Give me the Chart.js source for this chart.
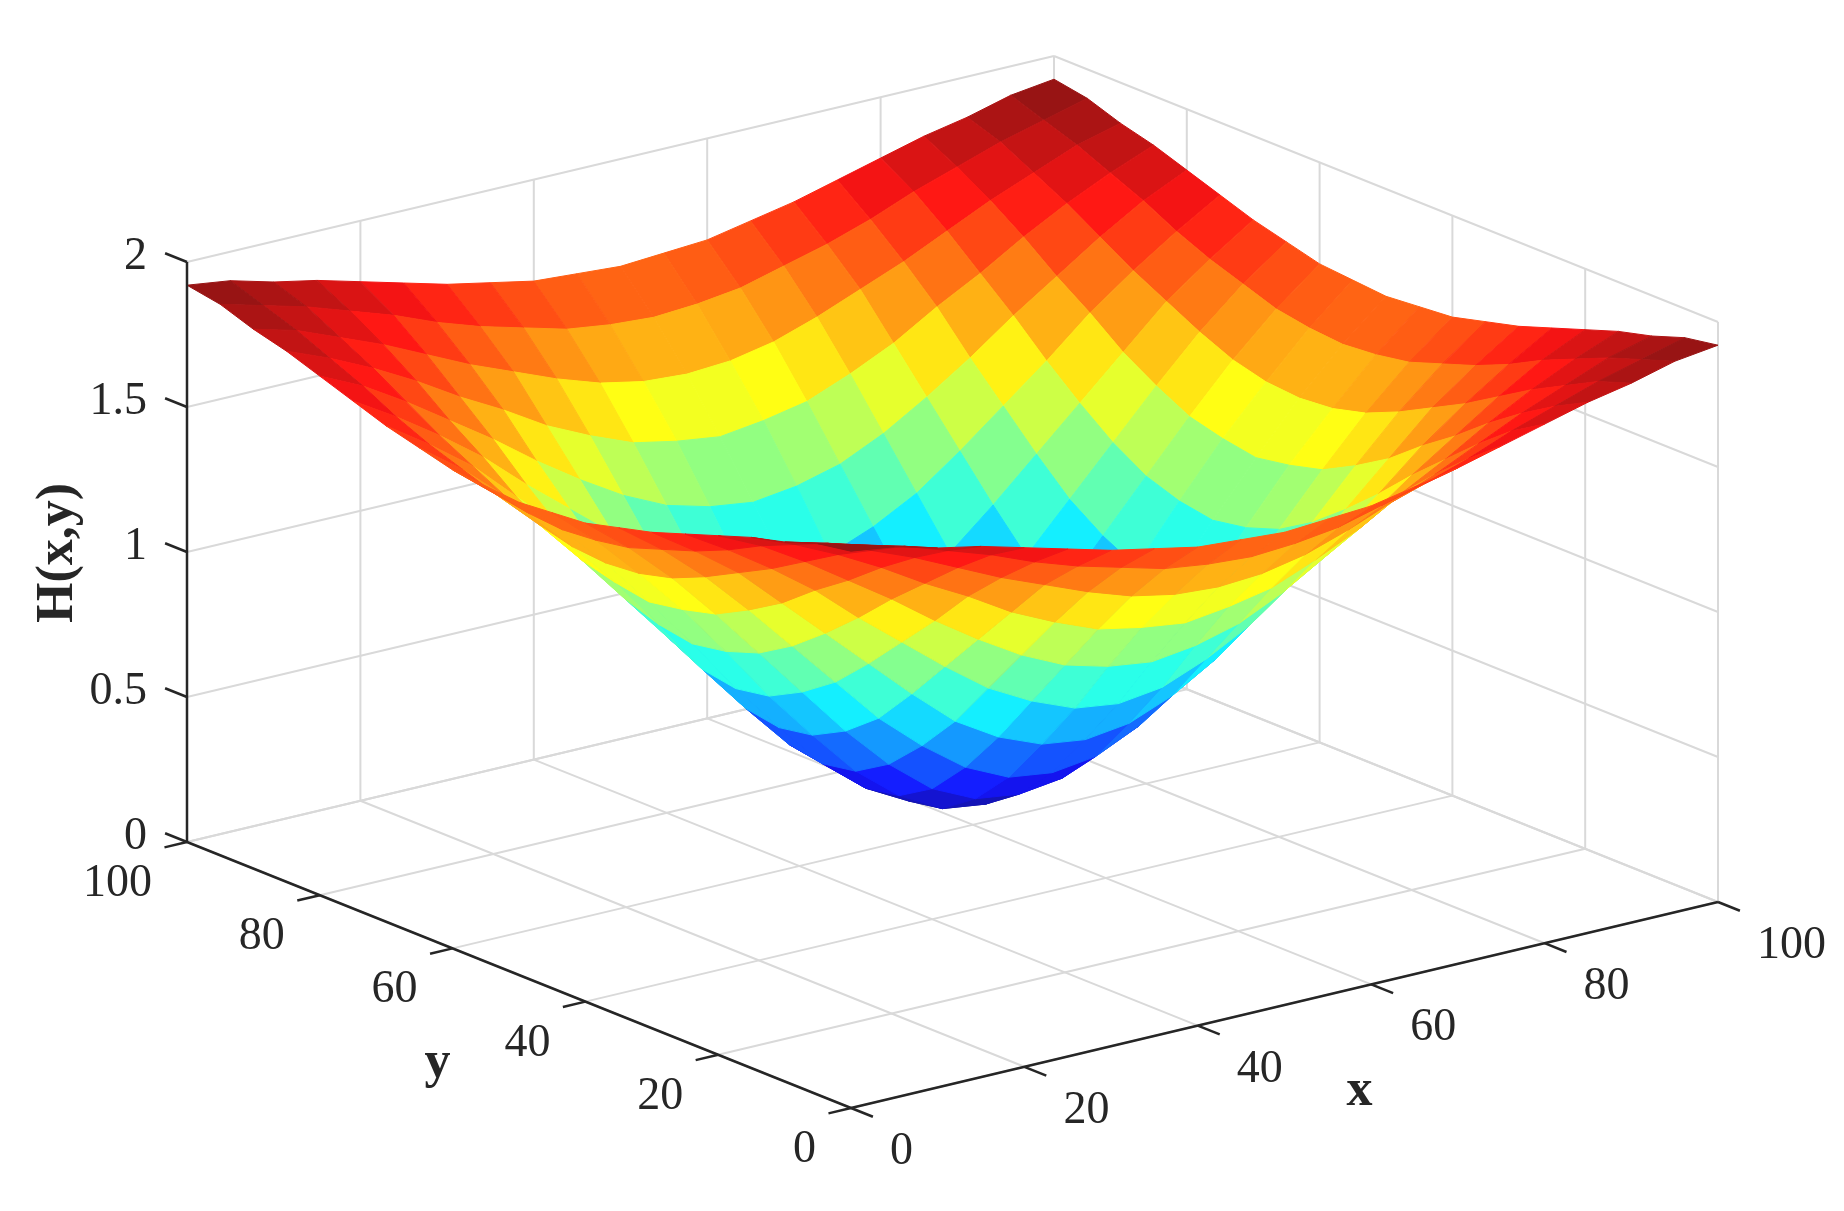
<!DOCTYPE html>
<html>
<head>
<meta charset="utf-8">
<title>H(x,y) mesh</title>
<script src="https://cdn.jsdelivr.net/npm/chart.js@4.4.0/dist/chart.umd.min.js"></script>
<style>
    html, body { margin: 0; padding: 0; background: #ffffff; }
    #wrap { width: 1844px; height: 1211px; }
</style>
</head>
<body>
<div id="wrap"><canvas id="meshChart" width="1844" height="1211"></canvas></div>
<script>
// grid of the surface, step 5 in x and y
var xGrid = [0, 5, 10, 15, 20, 25, 30, 35, 40, 45, 50, 55, 60, 65, 70, 75, 80, 85, 90, 95, 100];
var yGrid = [0, 5, 10, 15, 20, 25, 30, 35, 40, 45, 50, 55, 60, 65, 70, 75, 80, 85, 90, 95, 100];

// H values, one row per yGrid entry
var H = [
    [1.92, 1.90, 1.86, 1.83, 1.79, 1.75, 1.71, 1.68, 1.65, 1.64, 1.63, 1.64, 1.65, 1.68, 1.71, 1.75, 1.79, 1.83, 1.86, 1.90, 1.92],
    [1.90, 1.86, 1.82, 1.77, 1.72, 1.66, 1.61, 1.57, 1.53, 1.51, 1.50, 1.51, 1.53, 1.57, 1.61, 1.66, 1.72, 1.77, 1.82, 1.86, 1.90],
    [1.86, 1.82, 1.76, 1.70, 1.63, 1.56, 1.50, 1.44, 1.39, 1.36, 1.35, 1.36, 1.39, 1.44, 1.50, 1.56, 1.63, 1.70, 1.76, 1.82, 1.86],
    [1.83, 1.77, 1.70, 1.62, 1.53, 1.45, 1.36, 1.29, 1.23, 1.20, 1.18, 1.20, 1.23, 1.29, 1.36, 1.45, 1.53, 1.62, 1.70, 1.77, 1.83],
    [1.79, 1.72, 1.63, 1.53, 1.43, 1.32, 1.22, 1.13, 1.06, 1.02, 1.00, 1.02, 1.06, 1.13, 1.22, 1.32, 1.43, 1.53, 1.63, 1.72, 1.79],
    [1.75, 1.66, 1.56, 1.45, 1.32, 1.20, 1.08, 0.97, 0.89, 0.83, 0.81, 0.83, 0.89, 0.97, 1.08, 1.20, 1.32, 1.45, 1.56, 1.66, 1.75],
    [1.71, 1.61, 1.50, 1.36, 1.22, 1.08, 0.94, 0.81, 0.72, 0.66, 0.64, 0.66, 0.72, 0.81, 0.94, 1.08, 1.22, 1.36, 1.50, 1.61, 1.71],
    [1.68, 1.57, 1.44, 1.29, 1.13, 0.97, 0.81, 0.68, 0.57, 0.50, 0.48, 0.50, 0.57, 0.68, 0.81, 0.97, 1.13, 1.29, 1.44, 1.57, 1.68],
    [1.65, 1.53, 1.39, 1.23, 1.06, 0.89, 0.72, 0.57, 0.45, 0.38, 0.36, 0.38, 0.45, 0.57, 0.72, 0.89, 1.06, 1.23, 1.39, 1.53, 1.65],
    [1.64, 1.51, 1.36, 1.20, 1.02, 0.83, 0.66, 0.50, 0.38, 0.30, 0.28, 0.30, 0.38, 0.50, 0.66, 0.83, 1.02, 1.20, 1.36, 1.51, 1.64],
    [1.63, 1.50, 1.35, 1.18, 1.00, 0.81, 0.64, 0.48, 0.36, 0.28, 0.25, 0.28, 0.36, 0.48, 0.64, 0.81, 1.00, 1.18, 1.35, 1.50, 1.63],
    [1.64, 1.51, 1.36, 1.20, 1.02, 0.83, 0.66, 0.50, 0.38, 0.30, 0.28, 0.30, 0.38, 0.50, 0.66, 0.83, 1.02, 1.20, 1.36, 1.51, 1.64],
    [1.65, 1.53, 1.39, 1.23, 1.06, 0.89, 0.72, 0.57, 0.45, 0.38, 0.36, 0.38, 0.45, 0.57, 0.72, 0.89, 1.06, 1.23, 1.39, 1.53, 1.65],
    [1.68, 1.57, 1.44, 1.29, 1.13, 0.97, 0.81, 0.68, 0.57, 0.50, 0.48, 0.50, 0.57, 0.68, 0.81, 0.97, 1.13, 1.29, 1.44, 1.57, 1.68],
    [1.71, 1.61, 1.50, 1.36, 1.22, 1.08, 0.94, 0.81, 0.72, 0.66, 0.64, 0.66, 0.72, 0.81, 0.94, 1.08, 1.22, 1.36, 1.50, 1.61, 1.71],
    [1.75, 1.66, 1.56, 1.45, 1.32, 1.20, 1.08, 0.97, 0.89, 0.83, 0.81, 0.83, 0.89, 0.97, 1.08, 1.20, 1.32, 1.45, 1.56, 1.66, 1.75],
    [1.79, 1.72, 1.63, 1.53, 1.43, 1.32, 1.22, 1.13, 1.06, 1.02, 1.00, 1.02, 1.06, 1.13, 1.22, 1.32, 1.43, 1.53, 1.63, 1.72, 1.79],
    [1.83, 1.77, 1.70, 1.62, 1.53, 1.45, 1.36, 1.29, 1.23, 1.20, 1.18, 1.20, 1.23, 1.29, 1.36, 1.45, 1.53, 1.62, 1.70, 1.77, 1.83],
    [1.86, 1.82, 1.76, 1.70, 1.63, 1.56, 1.50, 1.44, 1.39, 1.36, 1.35, 1.36, 1.39, 1.44, 1.50, 1.56, 1.63, 1.70, 1.76, 1.82, 1.86],
    [1.90, 1.86, 1.82, 1.77, 1.72, 1.66, 1.61, 1.57, 1.53, 1.51, 1.50, 1.51, 1.53, 1.57, 1.61, 1.66, 1.72, 1.77, 1.82, 1.86, 1.90],
    [1.92, 1.90, 1.86, 1.83, 1.79, 1.75, 1.71, 1.68, 1.65, 1.64, 1.63, 1.64, 1.65, 1.68, 1.71, 1.75, 1.79, 1.83, 1.86, 1.90, 1.92]
];

var xTicks = [0, 20, 40, 60, 80, 100];
var yTicks = [0, 20, 40, 60, 80, 100];
var zTicks = [0, 0.5, 1, 1.5, 2];
var zTickLabels = ["0", "0.5", "1", "1.5", "2"];

// view of the box: page position of (0,0,0) and how one unit of x, y, z moves on the page
var view = { ox: 851, oy: 1108, xdx: 8.67, xdy: -2.06, ydx: -6.64, ydy: -2.66, zdy: -290 };
// direction towards the eye, used to sort the patches back to front
var eye = { x: -6.31, y: -8.24, z: 94.6 };

var gridColor = "#d9d9d9";
var axisColor = "#262626";
var tickFont = "46px 'Liberation Serif', 'Times New Roman', serif";
var titleFont = "bold 52px 'Liberation Serif', 'Times New Roman', serif";

function project(x, y, z) {
    return {
        x: view.ox + x * view.xdx + y * view.ydx,
        y: view.oy + x * view.xdy + y * view.ydy + z * view.zdy
    };
}

// MATLAB style jet colormap, t from 0 to 1
function jet(t) {
    function clamp(v) { return Math.max(0, Math.min(1, v)); }
    var r = clamp(1.5 - Math.abs(4 * t - 3));
    var g = clamp(1.5 - Math.abs(4 * t - 2));
    var b = clamp(1.5 - Math.abs(4 * t - 1));
    var w = 0.08; // the fine mesh lets a little white through
    return "rgb(" + Math.round(255 * (r * (1 - w) + w)) + "," +
        Math.round(255 * (g * (1 - w) + w)) + "," +
        Math.round(255 * (b * (1 - w) + w)) + ")";
}

var layers = []; // in drawing order, first one at the back

function addLine(p, q, color, width) {
    layers.push({
        data: [p, q],
        borderColor: color,
        borderWidth: width,
        fill: false,
        pointRadius: 0
    });
}

// back walls and floor grid
xTicks.forEach(function (x) {
    addLine(project(x, 100, 0), project(x, 100, 2), gridColor, 2);
    addLine(project(x, 0, 0), project(x, 100, 0), gridColor, 2);
});
yTicks.forEach(function (y) {
    addLine(project(100, y, 0), project(100, y, 2), gridColor, 2);
    addLine(project(0, y, 0), project(100, y, 0), gridColor, 2);
});
zTicks.forEach(function (z) {
    addLine(project(0, 100, z), project(100, 100, z), gridColor, 2);
    addLine(project(100, 0, z), project(100, 100, z), gridColor, 2);
});

// surface patches
var hMin = Infinity, hMax = -Infinity;
H.forEach(function (row) {
    row.forEach(function (v) { hMin = Math.min(hMin, v); hMax = Math.max(hMax, v); });
});

var patches = [];
for (var j = 0; j < yGrid.length - 1; j++) {
    for (var i = 0; i < xGrid.length - 1; i++) {
        var x0 = xGrid[i], x1 = xGrid[i + 1], y0 = yGrid[j], y1 = yGrid[j + 1];
        var hc = (H[j][i] + H[j][i + 1] + H[j + 1][i] + H[j + 1][i + 1]) / 4;
        var xc = (x0 + x1) / 2, yc = (y0 + y1) / 2;
        patches.push({
            near: eye.x * xc + eye.y * yc + eye.z * hc,
            color: jet((hc - hMin) / (hMax - hMin)),
            pts: [
                project(x0, y0, H[j][i]),
                project(x1, y0, H[j][i + 1]),
                project(x1, y1, H[j + 1][i + 1]),
                project(x0, y1, H[j + 1][i]),
                project(x0, y0, H[j][i])
            ]
        });
    }
}
patches.sort(function (a, b) { return a.near - b.near; });
patches.forEach(function (p) {
    layers.push({
        data: p.pts,
        borderColor: p.color,
        backgroundColor: p.color,
        borderWidth: 1,
        fill: "shape",
        pointRadius: 0
    });
});

// axis lines and tick marks
addLine(project(0, 100, 0), project(0, 100, 2), axisColor, 2.5);
addLine(project(0, 0, 0), project(0, 100, 0), axisColor, 2.5);
addLine(project(0, 0, 0), project(100, 0, 0), axisColor, 2.5);
zTicks.forEach(function (z) {
    addLine(project(0, 100, z), project(0, 103.3, z), axisColor, 2.5);
});
yTicks.forEach(function (y) {
    addLine(project(0, y, 0), project(-2.6, y, 0), axisColor, 2.5);
});
xTicks.forEach(function (x) {
    addLine(project(x, 0, 0), project(x, -3.3, 0), axisColor, 2.5);
});

// Chart.js draws the highest order first
layers.forEach(function (ds, k) { ds.order = layers.length - k; });

// tick labels and axis titles
var labelPlugin = {
    id: "boxLabels",
    afterDatasetsDraw: function (chart) {
        var ctx = chart.ctx;
        var sx = chart.scales.x, sy = chart.scales.y;
        function px(p) { return { x: sx.getPixelForValue(p.x), y: sy.getPixelForValue(p.y) }; }

        ctx.save();
        ctx.fillStyle = axisColor;
        ctx.font = tickFont;
        ctx.textBaseline = "middle";

        ctx.textAlign = "right";
        zTicks.forEach(function (z, k) {
            var p = px(project(0, 100, z));
            ctx.fillText(zTickLabels[k], p.x - 40, p.y - 5);
        });
        yTicks.forEach(function (y) {
            var p = px(project(0, y, 0));
            ctx.fillText(String(y), p.x - 35, p.y + 42);
        });
        ctx.textAlign = "left";
        xTicks.forEach(function (x) {
            var p = px(project(x, 0, 0));
            ctx.fillText(String(x), p.x + 39, p.y + 44);
        });

        ctx.font = titleFont;
        ctx.textAlign = "center";
        var py = px(project(-14, 50, 0));
        ctx.fillText("y", py.x + 40, py.y + 60);
        var pxl = px(project(50, -14, 0));
        ctx.fillText("x", pxl.x - 18, pxl.y + 49);

        var pz = px(project(0, 100, 1));
        ctx.translate(pz.x - 128, pz.y + 1);
        ctx.rotate(-Math.PI / 2);
        ctx.fillText("H(x,y)", 0, 0);
        ctx.restore();
    }
};

var chart = new Chart(document.getElementById("meshChart"), {
    type: "line",
    data: { datasets: layers },
    options: {
        responsive: false,
        devicePixelRatio: 1,
        animation: false,
        events: [],
        layout: { padding: 0 },
        elements: { point: { radius: 0 }, line: { tension: 0 } },
        plugins: { legend: { display: false }, tooltip: { enabled: false } },
        scales: {
            x: { type: "linear", min: 0, max: 1844, display: false },
            y: { type: "linear", min: 0, max: 1211, reverse: true, display: false }
        }
    },
    plugins: [labelPlugin]
});
</script>
</body>
</html>
